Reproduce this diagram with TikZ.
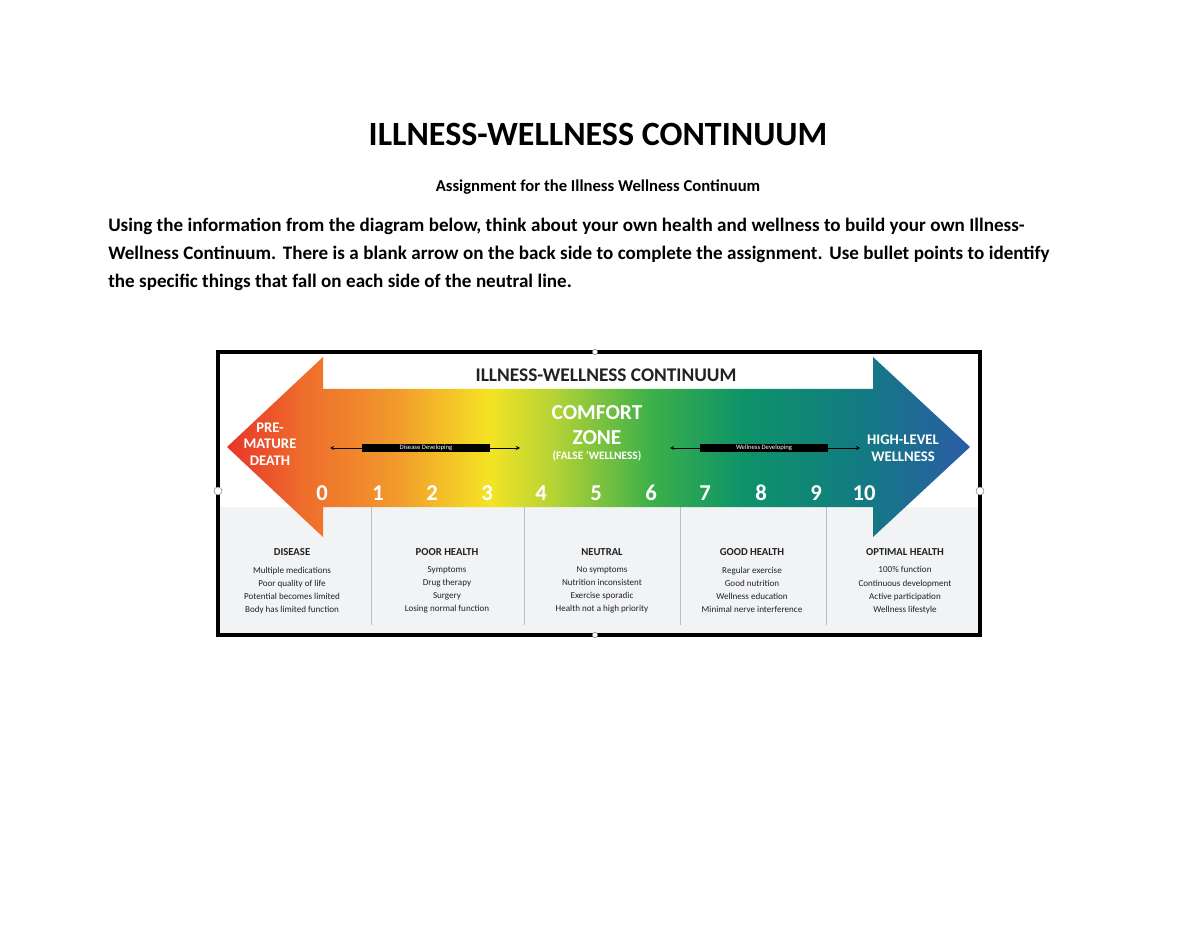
\documentclass[tikz,border=0pt]{standalone}
\usepackage{fontspec}
\setmainfont{Carlito}
\definecolor{pgray}{HTML}{F2F3F5}
\definecolor{dtext}{HTML}{222222}
\definecolor{s1}{HTML}{E8352A}
\definecolor{s2}{HTML}{EE6B2C}
\definecolor{s3}{HTML}{F29A2C}
\definecolor{s4}{HTML}{F4E424}
\definecolor{s5}{HTML}{B3D236}
\definecolor{s6}{HTML}{3DB049}
\definecolor{s7}{HTML}{0E9468}
\definecolor{s8}{HTML}{127B82}
\definecolor{s9}{HTML}{2B5CA6}
\pgfdeclarehorizontalshading{cont}{100bp}{
 color(0bp)=(s1); color(25bp)=(s1); color(29.9bp)=(s2);
 color(36.4bp)=(s3); color(42.7bp)=(s4);
 color(47.1bp)=(s5); color(53.5bp)=(s6);
 color(59.5bp)=(s7); color(67.6bp)=(s8); color(75bp)=(s9); color(100bp)=(s9)}
\tikzset{
 num/.style={text=white,font=\bfseries\fontsize{17}{17}\selectfont},
 wlab/.style={text=white,font=\bfseries\fontsize{11}{12.5}\selectfont,align=center},
 head/.style={text=dtext,font=\bfseries\fontsize{8}{8}\selectfont},
 item/.style={text=dtext,font=\fontsize{6.8}{9.8}\selectfont,align=center},
 devbox/.style={fill=black,text=white,font=\fontsize{5}{5}\selectfont,inner sep=0.8pt,minimum width=96pt,minimum height=6pt},
 divl/.style={draw=gray!50,line width=0.6pt},
 handle/.style={circle,draw=gray,fill=white,inner sep=0pt,minimum size=6pt}
}
\begin{document}
\begin{tikzpicture}[x=0.75pt,y=-0.75pt]
\useasboundingbox (0,0) rectangle (1200,927);
\fill[white] (0,0) rectangle (1200,927);
\node (title) at (598,134) {\bfseries\fontsize{25.5}{30}\selectfont ILLNESS-WELLNESS CONTINUUM};
\node (sub) at (598,187) {\bfseries\fontsize{12.5}{14}\selectfont Assignment for the Illness Wellness Continuum};
\node[anchor=north west,align=left,text width=716pt,inner sep=0pt] (para) at (108,218)
 {\bfseries\fontsize{14.3}{21}\selectfont Using the information from the diagram below, think about your own health and wellness to build your own Illness-Wellness Continuum. There is a blank arrow on the back side to complete the assignment. Use bullet points to identify the specific things that fall on each side of the neutral line.\par};
% panel
\fill[white] (218,352) rectangle (980,635);
\fill[pgray] (220,507) rectangle (978,633);
\draw[divl] (371,507) -- (371,625);
\draw[divl] (524,507) -- (524,625);
\draw[divl] (680,507) -- (680,625);
\draw[divl] (826,507) -- (826,625);
% arrow
\shade[shading=cont] (227,447) -- (323,357) -- (323,389) -- (873,389) -- (873,357) -- (970,447) -- (873,537) -- (873,507) -- (323,507) -- (323,537) -- cycle;
\draw[line width=3pt] (218,352) rectangle (980,635);
\node[handle] (h1) at (218,491) {};
\node[handle] (h2) at (980,491) {};
\node[handle,minimum size=4pt] (h3) at (595,352) {};
\node[handle,minimum size=4pt] (h4) at (595,635) {};
\node[text=dtext] (atitle) at (606,375) {\bfseries\fontsize{14.5}{14}\selectfont ILLNESS-WELLNESS CONTINUUM};
\node[wlab] (pre) at (270,444) {PRE-\\MATURE\\DEATH};
\node[wlab,font=\bfseries\fontsize{16}{19}\selectfont] (cz) at (597,425) {COMFORT\\ZONE};
\node[wlab,font=\bfseries\fontsize{8.5}{9}\selectfont] (fw) at (597,456) {(FALSE 'WELLNESS)};
\node[wlab] (hlw) at (903,448) {HIGH-LEVEL\\WELLNESS};
% developing bars
\coordinate (dl) at (330,448); \coordinate (dr) at (520,448);
\draw[<->,>=stealth,line width=0.4pt] (dl) -- (dr);
\node[devbox] (dd) at (426,448) {Disease Developing};
\coordinate (wl) at (670,448); \coordinate (wr) at (860,448);
\draw[<->,>=stealth,line width=0.4pt] (wl) -- (wr);
\node[devbox] (wd) at (764,448) {Wellness Developing};
% numbers
\foreach \n/\x in {0/322,1/378,2/432,3/487,4/541,5/596,6/651,7/705,8/761,9/816,10/864}
 \node[num] (n\n) at (\x,493) {\n};
% columns
\node[head] (c1) at (292,552) {DISEASE};
\node[item,anchor=north] (i1) at (292,562) {Multiple medications\\Poor quality of life\\Potential becomes limited\\Body has limited function};
\node[head] (c2) at (447,552) {POOR HEALTH};
\node[item,anchor=north] (i2) at (447,562) {Symptoms\\Drug therapy\\Surgery\\Losing normal function};
\node[head] (c3) at (602,552) {NEUTRAL};
\node[item,anchor=north] (i3) at (602,562) {No symptoms\\Nutrition inconsistent\\Exercise sporadic\\Health not a high priority};
\node[head] (c4) at (752,552) {GOOD HEALTH};
\node[item,anchor=north] (i4) at (752,562) {Regular exercise\\Good nutrition\\Wellness education\\Minimal nerve interference};
\node[head] (c5) at (905,552) {OPTIMAL HEALTH};
\node[item,anchor=north] (i5) at (905,562) {100\% function\\Continuous development\\Active participation\\Wellness lifestyle};
\end{tikzpicture}
\end{document}
